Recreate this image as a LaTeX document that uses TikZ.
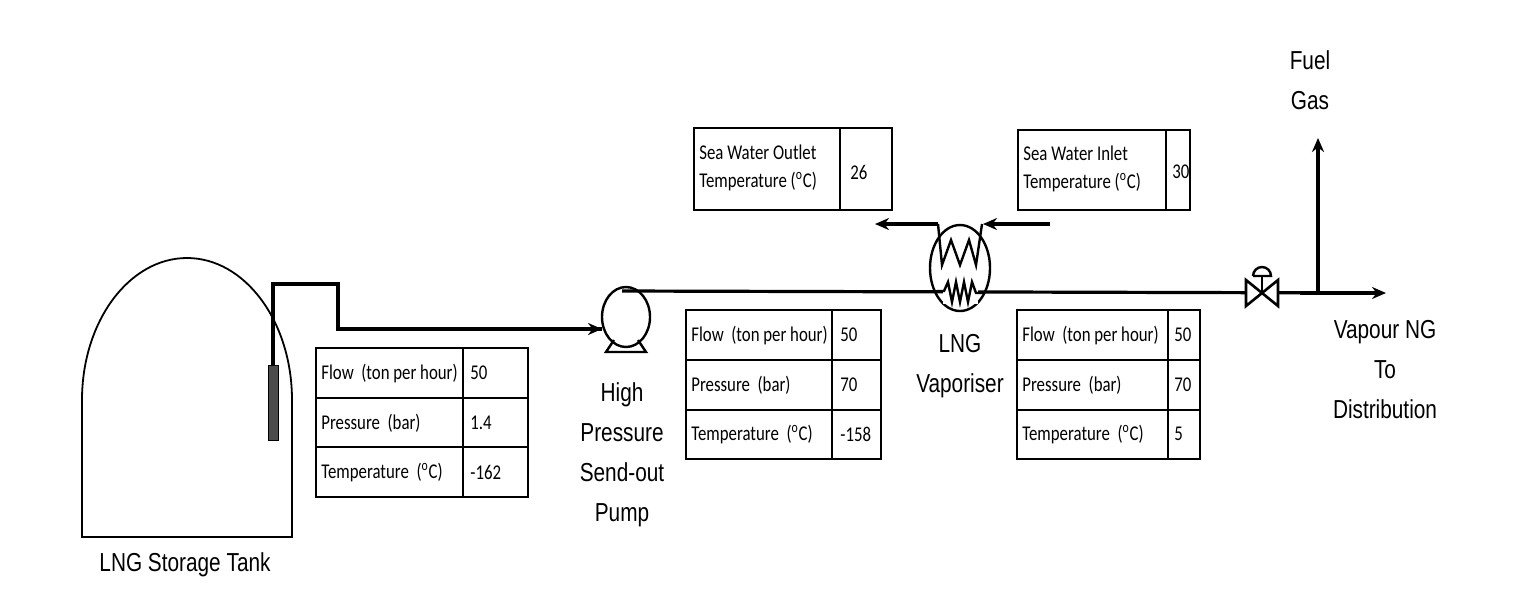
\documentclass[tikz,border=0pt]{standalone}
\usepackage{fontspec}
\setmainfont{Liberation Sans}
\newfontfamily\calfnt{Carlito}
\usetikzlibrary{arrows.meta,shapes.geometric}
\newcommand{\nar}[1]{\scalebox{0.8}[1]{#1}}
\newcommand{\tnar}[1]{\scalebox{0.8}[1]{\calfnt\fontsize{10.5}{12}\selectfont #1}}
\begin{document}
\begin{tikzpicture}[x=0.5pt,y=-0.5pt,
  pipe/.style={line width=1.6pt},
  arr/.style={pipe,-{Stealth[length=7pt,width=6pt]}},
  lbl/.style={font=\fontsize{13}{16}\selectfont,align=center,inner sep=0},
  tcell/.style={anchor=west,inner sep=0},
  tbl/.style={line width=1.3pt}]
\useasboundingbox (0,0) rectangle (1524,591);
% tank
\draw[line width=0.9pt] (82,537) -- (82,400) arc[start angle=180,end angle=360,x radius=105,y radius=142] -- (292,537) -- cycle;
\fill[black!70,draw=black] (268,365) rectangle (278,440);
\coordinate (dip) at (273,365);
\coordinate (pin) at (602,329);
\node[lbl] (tankl) at (185,565) {\nar{LNG Storage Tank}};
% pump
\node[draw,ellipse,line width=1.2pt,minimum width=24pt,minimum height=30pt,inner sep=0] (pump) at (626,317) {};
\draw[line width=1.2pt] (614,340) -- (606,352) -- (646,352) -- (638,340);
\draw[pipe] (dip) -- (273,284) -- (338,284) -- (338,329) -- (pin);
\draw[arr] (338,329) -- (pin);
\node[lbl] (pumpl) at (622,455) {\nar{High}\\[4pt]\nar{Pressure}\\[4pt]\nar{Send-out}\\[4pt]\nar{Pump}};
% vaporiser
\node[draw,ellipse,line width=1.2pt,minimum width=30pt,minimum height=43pt,inner sep=0] (vap) at (960,268) {};
\coordinate (vin) at (1050,224);
\coordinate (vout) at (875,224);
\draw[pipe] (622,291) -- (1378,293);
\draw[arr] (1300,293) -- (1386,293);
\draw[line width=1.2pt] (938,224) -- (942,265) -- (951,240) -- (960,265) -- (969,240) -- (976,265) -- (982,224);
\draw[line width=1.2pt,fill=white,draw=white] (944,283) rectangle (977,303);
\draw[line width=1.2pt] (937,291) -- (944,291) -- (948,282) -- (952,302) -- (956,282) -- (960,302) -- (964,282) -- (968,302) -- (972,282) -- (976,293) -- (983,293);
\draw[arr] (vin) -- (983,224);
\draw[arr] (938,224) -- (vout);
\node[lbl] (vapl) at (960,366) {\nar{LNG}\\[4pt]\nar{Vaporiser}};
% valve
\draw[line width=1.3pt,fill=white] (1246,280) -- (1246,306) -- (1278,280) -- (1278,306) -- cycle;
\draw[line width=1.2pt] (1262,293) -- (1262,276);
\draw[line width=1.2pt] (1253,276) -- (1271,276) arc[start angle=0,end angle=-180,radius=9];
% fuel gas
\coordinate (fg) at (1318,293);
\draw[arr] (fg) -- (1318,138);
\node[lbl] (fgl) at (1310,80) {\nar{Fuel}\\[4pt]\nar{Gas}};
\node[lbl] (vng) at (1385,370) {\nar{Vapour NG}\\[4pt]\nar{To}\\[4pt]\nar{Distribution}};
% tables
\newcommand{\ptable}[5]{%
  \draw[tbl] (#1,#2) rectangle (#3,#4);
  \draw[tbl] (#5,#2) -- (#5,#4);
}
\ptable{316}{348}{528}{497}{463}
\draw[tbl] (316,398) -- (528,398) (316,447) -- (528,447);
\node[tcell] (a1) at (321,373) {\tnar{Flow\ \ (ton per hour)}};
\node[tcell] (a2) at (321,423) {\tnar{Pressure\ \ (bar)}};
\node[tcell] (a3) at (321,472) {\tnar{Temperature\ \ (\textsuperscript{o}C)}};
\node[tcell] (a4) at (470,373) {\tnar{50}};
\node[tcell] (a5) at (470,423) {\tnar{1.4}};
\node[tcell] (a6) at (470,472) {\tnar{-162}};
\ptable{686}{310}{881}{459}{832}
\draw[tbl] (686,360) -- (881,360) (686,410) -- (881,410);
\node[tcell] (b1) at (691,335) {\tnar{Flow\ \ (ton per hour)}};
\node[tcell] (b2) at (691,385) {\tnar{Pressure\ \ (bar)}};
\node[tcell] (b3) at (691,434) {\tnar{Temperature\ \ (\textsuperscript{o}C)}};
\node[tcell] (b4) at (840,335) {\tnar{50}};
\node[tcell] (b5) at (840,385) {\tnar{70}};
\node[tcell] (b6) at (840,434) {\tnar{-158}};
\ptable{1017}{310}{1200}{459}{1168}
\draw[tbl] (1017,360) -- (1200,360) (1017,410) -- (1200,410);
\node[tcell] (c1) at (1022,335) {\tnar{Flow\ \ (ton per hour)}};
\node[tcell] (c2) at (1022,385) {\tnar{Pressure\ \ (bar)}};
\node[tcell] (c3) at (1022,434) {\tnar{Temperature\ \ (\textsuperscript{o}C)}};
\node[tcell] (c4) at (1174,335) {\tnar{50}};
\node[tcell] (c5) at (1174,385) {\tnar{70}};
\node[tcell] (c6) at (1174,434) {\tnar{5}};
\ptable{694}{128}{892}{210}{840}
\node[tcell] (d1) at (699,169) {\tnar{\begin{tabular}{@{}l@{}}Sea Water Outlet\\[2pt]Temperature (\textsuperscript{o}C)\end{tabular}}};
\node[tcell] (d2) at (850,172) {\tnar{26}};
\ptable{1018}{130}{1190}{210}{1166}
\node[tcell] (e1) at (1023,170) {\tnar{\begin{tabular}{@{}l@{}}Sea Water Inlet\\[2pt]Temperature (\textsuperscript{o}C)\end{tabular}}};
\node[tcell] (e2) at (1172,172) {\tnar{30}};
\end{tikzpicture}
\end{document}
